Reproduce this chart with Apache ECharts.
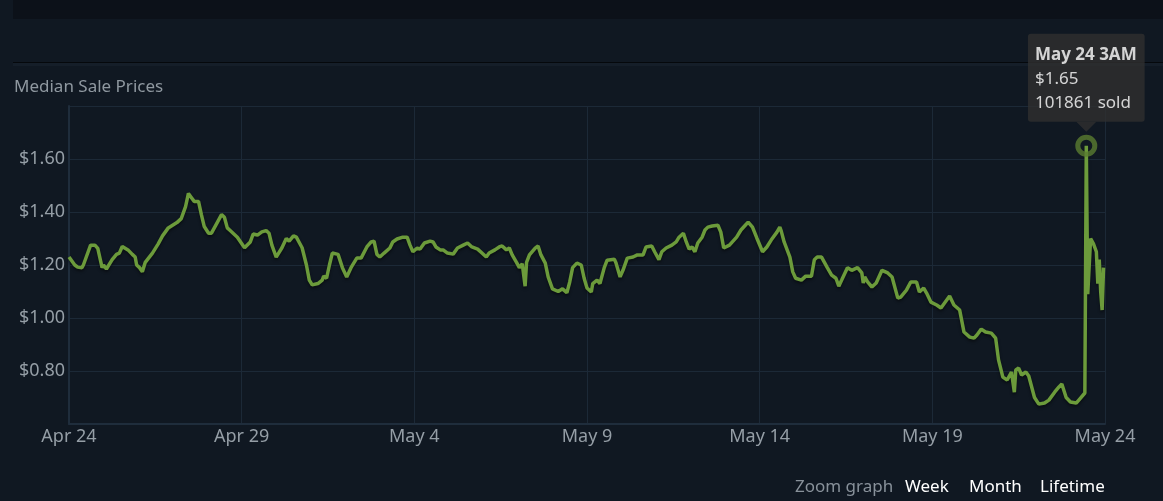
<!DOCTYPE html>
<html><head><meta charset="utf-8">
<script src="https://cdn.jsdelivr.net/npm/echarts@6/dist/echarts.min.js"></script>
<style>html,body{margin:0;padding:0;background:#101822;overflow:hidden}#c{width:1163px;height:501px}</style>
</head><body><div id="c"></div>
<script>
const dateLabels = ['Apr 24','Apr 29','May 4','May 9','May 14','May 19','May 24'];
const yTicks = [0.8, 1.0, 1.2, 1.4, 1.6];
// hours since Apr 24 00:00
const hours = [0,1,4,6,9,10,15,18,20,23,24,26,30,33,35,37,41,44,46,47,49,51,53,58,62,65,69,72,75,78,81,83,85,87,90,92,94,97,99,103,106,108,110,112,117,122,126,128,131,134,137,139,141,144,145,148,151,153,156,158,162,165,167,169,173,176,177,179,181,183,187,190,193,196,200,203,207,210,212,214,216,219,223,225,228,232,235,237,239,242,244,247,251,253,255,258,260,263,267,270,274,277,280,284,287,290,292,296,299,301,304,306,308,311,313,315,317,318,320,324,326,328,331,333,336,340,343,346,348,350,353,356,358,360,363,364,367,369,372,374,379,380,383,385,388,392,395,399,401,405,407,410,412,415,419,422,424,427,429,431,433,435,437,440,442,444,447,451,453,455,459,464,467,470,472,475,478,482,485,488,492,494,495,497,501,503,505,509,512,516,518,520,523,527,530,533,535,537,541,544,548,551,552,553,555,558,561,565,569,572,576,578,582,585,589,591,594,596,599,603,606,610,612,615,619,622,626,629,631,634,637,641,644,646,649,652,655,657,658,660,662,665,667,671,674,678,681,685,688,690,693,696,700,703,706,707,708,710,712,714,715,716,717,718,719];
const prices = [1.23,1.226,1.20,1.192,1.19,1.20,1.275,1.275,1.263,1.19,1.20,1.185,1.22,1.24,1.245,1.27,1.257,1.24,1.23,1.20,1.19,1.175,1.21,1.245,1.28,1.31,1.34,1.35,1.36,1.375,1.42,1.47,1.455,1.44,1.44,1.39,1.345,1.32,1.32,1.36,1.39,1.38,1.34,1.33,1.305,1.265,1.287,1.317,1.313,1.325,1.33,1.32,1.275,1.23,1.23,1.265,1.30,1.29,1.31,1.305,1.265,1.20,1.143,1.125,1.13,1.143,1.158,1.15,1.20,1.245,1.24,1.19,1.155,1.19,1.226,1.226,1.268,1.287,1.29,1.24,1.23,1.245,1.264,1.287,1.298,1.305,1.305,1.275,1.25,1.264,1.26,1.283,1.29,1.287,1.268,1.257,1.257,1.245,1.241,1.264,1.275,1.283,1.268,1.26,1.245,1.23,1.245,1.257,1.268,1.272,1.257,1.264,1.238,1.21,1.19,1.205,1.12,1.21,1.238,1.264,1.272,1.238,1.207,1.155,1.11,1.10,1.11,1.095,1.136,1.19,1.207,1.20,1.15,1.113,1.098,1.13,1.143,1.13,1.19,1.218,1.222,1.21,1.155,1.18,1.226,1.23,1.238,1.238,1.268,1.272,1.25,1.22,1.25,1.264,1.275,1.287,1.305,1.32,1.287,1.26,1.268,1.25,1.283,1.305,1.332,1.343,1.347,1.35,1.324,1.264,1.275,1.305,1.332,1.35,1.362,1.343,1.302,1.25,1.268,1.294,1.324,1.343,1.328,1.287,1.23,1.174,1.15,1.143,1.158,1.158,1.22,1.23,1.23,1.19,1.162,1.15,1.12,1.143,1.19,1.18,1.19,1.17,1.132,1.155,1.136,1.117,1.132,1.18,1.17,1.155,1.075,1.079,1.105,1.136,1.136,1.098,1.113,1.094,1.06,1.049,1.038,1.068,1.083,1.049,1.03,0.947,0.928,0.924,0.936,0.958,0.947,0.943,0.924,0.842,0.777,0.766,0.796,0.72,0.804,0.811,0.785,0.796,0.781,0.70,0.675,0.679,0.69,0.72,0.74,0.751,0.70,0.683,0.679,0.698,0.717,1.65,1.09,1.30,1.28,1.25,1.13,1.22,1.10,1.03,1.19];
const peakHour = 707;
const peakPrice = 1.65;
const peakTime = 'May 24 3AM';
const peakSold = 101861;

const FONT = '"Noto Sans", "Open Sans", sans-serif';
const GRID = '#1c2937';
const chart = echarts.init(document.getElementById('c'), null, {renderer: 'canvas'});
const lineData = hours.map((h, i) => [h, prices[i]]);

chart.setOption({
  backgroundColor: '#101822',
  animation: false,
  textStyle: {fontFamily: FONT},
  title: {
    text: 'Median Sale Prices', left: 14, top: 79, padding: 0,
    textStyle: {color: '#8f98a0', fontSize: 17, fontWeight: 'normal', fontFamily: FONT}
  },
  grid: {left: 69, right: 58, top: 106, bottom: 77, show: false},
  xAxis: {
    type: 'value', min: 0, max: 720, interval: 120,
    axisLine: {show: true, lineStyle: {color: '#1f2d3c', width: 2}},
    axisTick: {show: false},
    splitLine: {show: true, lineStyle: {color: GRID, width: 1}},
    axisLabel: {
      color: '#959ea6', fontSize: 18, margin: 4, fontFamily: FONT,
      formatter: v => dateLabels[Math.round(v / 120)] || ''
    }
  },
  yAxis: {
    type: 'value', min: 0.6, max: 1.8, interval: 0.2,
    axisLine: {show: true, lineStyle: {color: '#1f2d3c', width: 2}},
    axisTick: {show: false},
    splitLine: {show: true, lineStyle: {color: GRID, width: 1}},
    axisLabel: {
      color: '#959ea6', fontSize: 18, margin: 4, fontFamily: FONT,
      formatter: v => yTicks.some(t => Math.abs(t - v) < 1e-6) ? '$' + v.toFixed(2) : ''
    }
  },
  graphic: [
    {type: 'rect', left: 13, top: 0, shape: {width: 1150, height: 19}, style: {fill: '#0c1119'}, silent: true},
    {type: 'rect', left: 13, top: 62, shape: {width: 1150, height: 1}, style: {fill: '#05080c'}, silent: true},
    {type: 'rect', left: 13, top: 63, shape: {width: 1150, height: 3}, style: {fill: '#151e29'}, silent: true},
    {type: 'text', left: 795, top: 479, style: {text: 'Zoom graph', fill: '#88919a', font: '17px ' + FONT}, silent: true},
    {type: 'text', left: 905, top: 479, style: {text: 'Week', fill: '#ffffff', font: '17px ' + FONT}, silent: true},
    {type: 'text', left: 969, top: 479, style: {text: 'Month', fill: '#ffffff', font: '17px ' + FONT}, silent: true},
    {type: 'text', left: 1040, top: 479, style: {text: 'Lifetime', fill: '#ffffff', font: '17px ' + FONT}, silent: true}
  ],
  series: [
    {
      type: 'line', data: lineData, showSymbol: false, z: 2, silent: true,
      lineStyle: {color: '#6c9b3b', width: 3.5, shadowColor: 'rgba(0,0,0,0.45)', shadowBlur: 3, shadowOffsetY: 2}
    },
    {
      type: 'scatter', data: [[peakHour, peakPrice]], z: 4, silent: true,
      symbol: 'triangle', symbolRotate: 180, symbolSize: [20, 10], symbolOffset: [0, -19],
      itemStyle: {color: '#303030'}
    },
    {
      type: 'scatter', data: [[peakHour, peakPrice]], z: 5, silent: true,
      symbol: 'circle', symbolSize: 17,
      itemStyle: {color: 'rgba(0,0,0,0)', borderColor: '#5a7d31', borderWidth: 5},
      label: {
        show: true, position: 'top', distance: 13,
        formatter: () => '{b|' + peakTime + '}\n{n|$' + peakPrice.toFixed(2) + '}\n{n|' + peakSold + ' sold}',
        backgroundColor: '#303030', borderRadius: 3, padding: [9, 8, 7, 7],
        rich: {
          b: {color: '#ffffff', fontSize: 17, fontWeight: 'bold', lineHeight: 24, align: 'left', fontFamily: FONT},
          n: {color: '#ffffff', fontSize: 17, lineHeight: 24, align: 'left', fontFamily: FONT}
        }
      }
    }
  ]
});
</script></body></html>
